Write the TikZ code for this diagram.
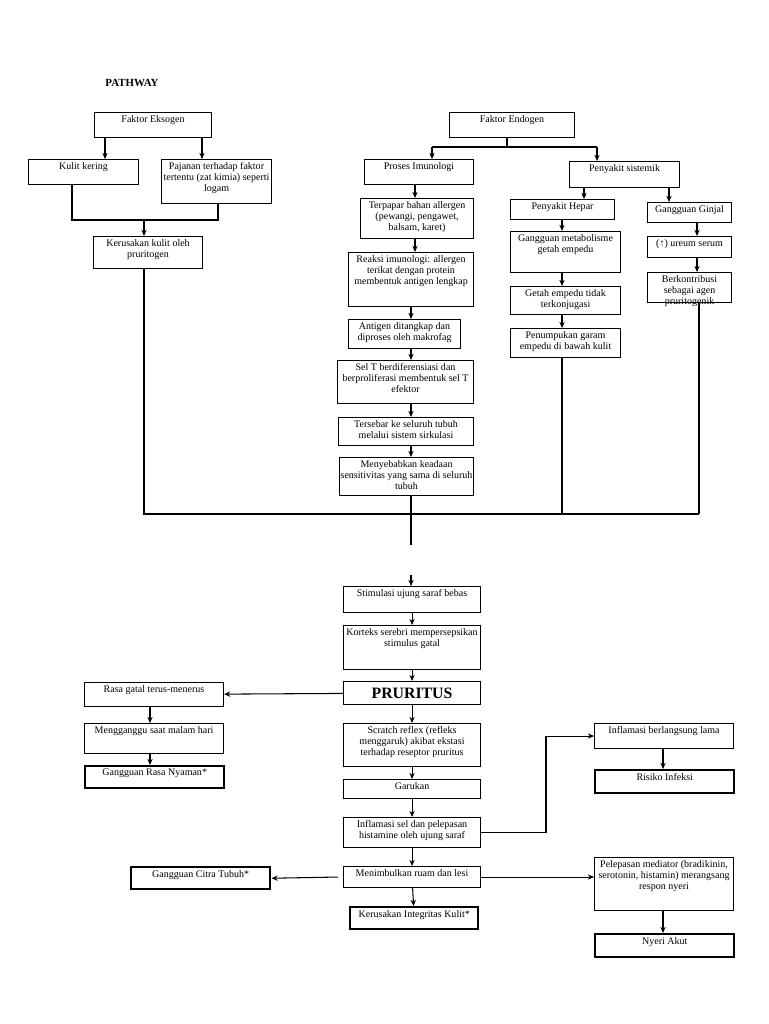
\documentclass[tikz,border=0pt]{standalone}
\usepackage{fontspec}
\setmainfont{Liberation Serif}
\usetikzlibrary{arrows.meta}
\newcommand\mybox[7][]{\node[draw,line width=0.6pt,#1,inner sep=0pt,anchor=north west] (#2) at (#3,#4) {\parbox[c][\dimexpr0.02cm*\numexpr#6-#4\relax\relax][t]{\dimexpr0.02cm*\numexpr#5-#3\relax\relax}{\centering\vspace{1.6pt}#7\par}};}
\begin{document}
\begin{tikzpicture}[x=0.02cm,y=-0.02cm,
  every node/.style={font=\fontsize{5.7}{6.4}\selectfont},
  ln/.style={line width=0.6pt},
  arr/.style={line width=0.6pt,-{Stealth[length=3.5pt,width=3pt]}},
  thk/.style={line width=1.4pt}]
\useasboundingbox (0,0) rectangle (768,1024);
\node[font=\fontsize{6.2}{7}\selectfont\bfseries] (title) at (132,83) {PATHWAY};
\mybox{fe}{94}{112}{211}{137}{Faktor Eksogen}
\mybox{kk}{28}{159}{138}{184}{Kulit kering}
\mybox{pj}{161}{159}{271}{203}{Pajanan terhadap faktor tertentu (zat kimia) seperti logam}
\mybox{kr}{93}{236}{202}{268}{Kerusakan kulit oleh pruritogen}
\mybox{fn}{449}{112}{574}{137}{Faktor Endogen}
\mybox{pi}{364}{159}{473}{184}{Proses Imunologi}
\mybox{ps}{569}{161}{679}{187}{Penyakit sistemik}
\mybox{ph}{510}{199}{614}{219}{Penyakit Hepar}
\mybox{gg}{647}{202}{731}{222}{Gangguan Ginjal}
\mybox{ur}{647}{236}{731}{257}{(\textuparrow) ureum serum}
\mybox{bk}{647}{272}{731}{302}{Berkontribusi sebagai agen pruritogenik}
\mybox{gm}{510}{231}{620}{272}{Gangguan metabolisme getah empedu}
\mybox{ge}{510}{286}{620}{314}{Getah empedu tidak terkonjugasi}
\mybox{pg}{510}{328}{620}{357}{Penumpukan garam empedu di bawah kulit}
\mybox{tb}{360}{198}{473}{238}{Terpapar bahan allergen (pewangi, pengawet, balsam, karet)}
\mybox{ri}{348}{252}{473}{306}{Reaksi imunologi: allergen terikat dengan protein membentuk antigen lengkap}
\mybox{ag}{348}{319}{460}{348}{Antigen ditangkap dan diproses oleh makrofag}
\mybox{st}{337}{360}{473}{403}{Sel T berdiferensiasi dan berproliferasi membentuk sel T efektor}
\mybox{ts}{338}{417}{473}{445}{Tersebar ke seluruh tubuh melalui sistem sirkulasi}
\mybox{mn}{339}{457}{473}{495}{Menyebabkan keadaan sensitivitas yang sama di seluruh tubuh}
\mybox{sm}{343}{586}{480}{612}{Stimulasi ujung saraf bebas}
\mybox{ko}{343}{625}{480}{669}{Korteks serebri mempersepsikan stimulus gatal}
\node[draw,line width=0.6pt,inner sep=0pt,anchor=north west,minimum width=137*0.02cm,minimum height=23*0.02cm,font=\fontsize{9}{10}\selectfont\bfseries] (pr) at (343,681) {PRURITUS};
\mybox{rg}{84}{682}{223}{706}{Rasa gatal terus-menerus}
\mybox{mg}{84}{723}{223}{753}{Mengganggu saat malam hari}
\mybox[thk]{gn}{84}{765}{223}{787}{Gangguan Rasa Nyaman*}
\mybox{sr}{343}{723}{480}{766}{Scratch reflex (refleks menggaruk) akibat ekstasi terhadap reseptor pruritus}
\mybox{gr}{343}{779}{480}{798}{Garukan}
\mybox{is}{343}{817}{480}{847}{Inflamasi sel dan pelepasan histamine oleh ujung saraf}
\mybox{il}{594}{723}{733}{748}{Inflamasi berlangsung lama}
\mybox[thk]{rf}{594}{769}{733}{792}{Risiko Infeksi}
\mybox{mr}{343}{866}{480}{887}{Menimbulkan ruam dan lesi}
\mybox[thk]{gc}{130}{866}{269}{888}{Gangguan Citra Tubuh*}
\mybox[thk]{ki}{349}{906}{477}{928}{Kerusakan Integritas Kulit*}
\mybox{pm}{594}{857}{733}{910}{Pelepasan mediator (bradikinin, serotonin, histamin) merangsang respon nyeri}
\mybox[thk]{na}{594}{933}{733}{956}{Nyeri Akut}
% coordinates
\coordinate (x105) at (105,0); \coordinate (x202) at (202,0);
\coordinate (x72) at (72,0); \coordinate (x218) at (218,0); \coordinate (x144) at (144,0);
\coordinate (m1) at (144,220); \coordinate (bus) at (0,514);
\coordinate (x507) at (507,0); \coordinate (x432) at (432,0); \coordinate (x597) at (597,0);
\coordinate (e1) at (0,147);
\coordinate (x584) at (584,0); \coordinate (x669) at (669,0);
\coordinate (x415) at (415,0); \coordinate (x411) at (411,0);
\coordinate (x562) at (562,0); \coordinate (x697) at (697,0);
\coordinate (x699) at (699,0); \coordinate (x150) at (150,0); \coordinate (x663) at (663,0);
\coordinate (s1) at (411,545); \coordinate (s2) at (411,575);
\coordinate (br) at (546,0); \coordinate (gl) at (338,0);
% left top
\draw[arr] (fe.south -| x105) -- (kk.north -| x105);
\draw[arr] (fe.south -| x202) -- (pj.north -| x202);
\draw[ln] (kk.south -| x72) |- (m1) -| (pj.south -| x218);
\draw[arr] (m1) -- (kr.north -| m1);
\draw[ln] (kr.south -| x144) -- (bus -| x144) -- (bus -| x699);
% right top
\draw[ln] (fn.south -| x507) -- (e1 -| x507);
\draw[ln] (e1 -| x432) -- (e1 -| x597);
\draw[arr] (e1 -| x432) -- (pi.north -| x432);
\draw[arr] (e1 -| x597) -- (ps.north -| x597);
\draw[arr] (ps.south -| x584) -- (ph.north -| x584);
\draw[arr] (ps.south -| x669) -- (gg.north -| x669);
\draw[arr] (pi.south -| x415) -- (tb.north -| x415);
\draw[arr] (tb.south -| x415) -- (ri.north -| x415);
\draw[arr] (ri.south -| x411) -- (ag.north -| x411);
\draw[arr] (ag.south -| x411) -- (st.north -| x411);
\draw[arr] (st.south -| x411) -- (ts.north -| x411);
\draw[arr] (ts.south -| x411) -- (mn.north -| x411);
\draw[ln] (mn.south -| x411) -- (s1);
\draw[arr] (ph.south -| x562) -- (gm.north -| x562);
\draw[arr] (gm.south -| x562) -- (ge.north -| x562);
\draw[arr] (ge.south -| x562) -- (pg.north -| x562);
\draw[ln] (pg.south -| x562) -- (bus -| x562);
\draw[arr] (gg.south -| x697) -- (ur.north -| x697);
\draw[arr] (ur.south -| x697) -- (bk.north -| x697);
\draw[ln] (bk.south -| x699) -- (bus -| x699);
% lower
\draw[arr] (s2) -- (sm.north -| s2);
\draw[arr] (sm) -- (ko);
\draw[arr] (ko) -- (pr);
\draw[arr] (pr) -- (rg);
\draw[arr] (rg.south -| x150) -- (mg.north -| x150);
\draw[arr] (mg.south -| x150) -- (gn.north -| x150);
\draw[arr] (pr) -- (sr);
\draw[arr] (sr) -- (gr);
\draw[arr] (gr) -- (is);
\draw[arr] (is) -- (mr);
\draw[arr] (mr) -- (ki);
\draw[arr] (is.east) -| (br |- il.west) -- (il.west);
\draw[arr] (il.south -| x663) -- (rf.north -| x663);
\draw[arr] (mr.west -| gl) -- (gc.east);
\draw[arr] (mr.east) -- (pm.west |- mr.east);
\draw[arr] (pm.south -| x663) -- (na.north -| x663);
\end{tikzpicture}
\end{document}
